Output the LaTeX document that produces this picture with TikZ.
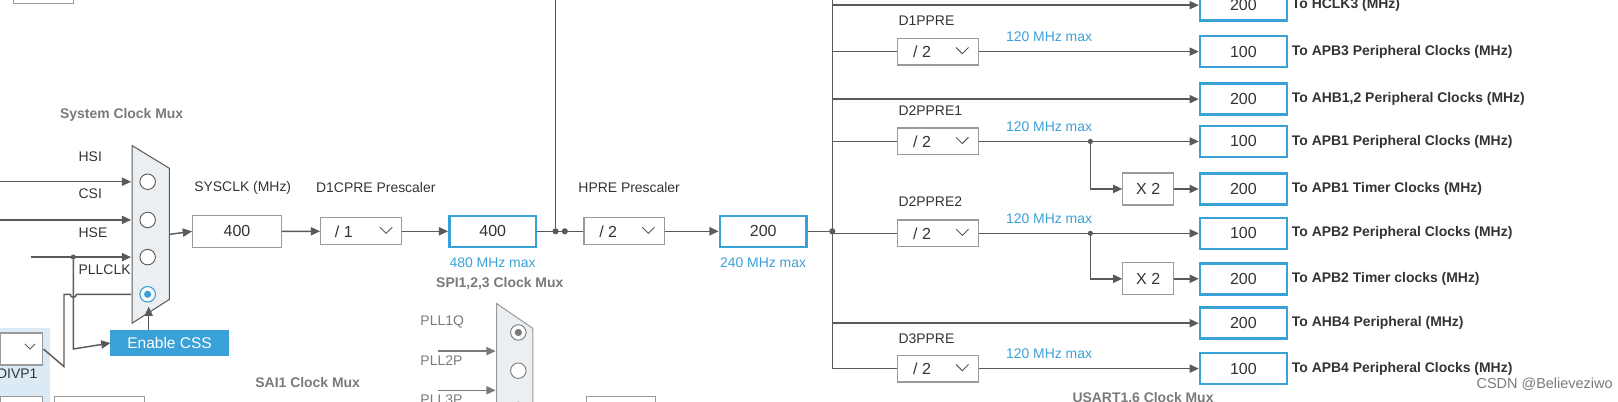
\documentclass[tikz,border=0pt]{standalone}
\usepackage{fontspec}
\setmainfont{Liberation Sans}
\usetikzlibrary{arrows.meta}
\definecolor{ln}{HTML}{5A5A5A}
\definecolor{bx}{HTML}{9A9A9A}
\definecolor{bl}{HTML}{3AA0D8}
\definecolor{tx}{HTML}{333333}
\definecolor{gl}{HTML}{7A7A7A}
\definecolor{mux}{HTML}{ECEFF2}
\definecolor{pan}{HTML}{DCEAF6}
\begin{document}
\begin{tikzpicture}[x=1pt,y=-1pt,
  wire/.style={draw=ln,line width=1.4pt},
  arr/.style={wire,-{Triangle[length=9pt,width=8pt]}},
  vf/.style={font=\fontsize{15.5}{15.5}\selectfont,text=tx},
  gbox/.style={draw=bx,line width=1.1pt,fill=white,minimum width=86pt,minimum height=31pt,inner sep=0,vf},
  bbox/.style={draw=bl,line width=2.4pt,fill=white,minimum width=84pt,minimum height=30pt,inner sep=0,vf},
  dd/.style={draw=bx,line width=1.1pt,fill=white,minimum width=78pt,minimum height=26pt,inner sep=0},
  lab/.style={font=\fontsize{13.5}{13.5}\selectfont,text=tx,anchor=west,inner sep=0},
  blab/.style={font=\fontsize{13.5}{13.5}\selectfont,text=bl,inner sep=0},
  rlab/.style={font=\bfseries\fontsize{13.5}{13.5}\selectfont,text=tx,anchor=west,inner sep=0},
  glab/.style={font=\bfseries\fontsize{13.5}{13.5}\selectfont,text=gl,inner sep=0},
  dot/.style={circle,fill=ln,inner sep=0,minimum size=6pt},
  rc/.style={circle,draw=ln,line width=0.9pt,fill=white,minimum size=15pt,inner sep=0}]
\useasboundingbox (0,0) rectangle (1567,388.4);
\clip (0,0) rectangle (1567,388.4);
% left panel
\fill[pan] (0,318) rectangle (48,401);
\node[dd,minimum width=41pt,minimum height=31pt,anchor=north west] (divp) at (0,322) {};
\draw[ln,line width=0.9pt] (24,333) -- (29,338) -- (34,333);
\node[lab] at (-3,362) {DIVP1};
\draw[bx,fill=white,line width=1.1pt] (0,384) rectangle (41,405);
\draw[bx,fill=white,line width=1.1pt] (53,384) rectangle (140,405);
\draw[bx,fill=white,line width=1.1pt] (13,-5) rectangle (71,3);
% system mux
\path[draw=ln,fill=mux,line width=1pt] (128,141) -- (164,163) -- (164,290) -- (128,313) -- cycle;
\node[rc] (c1) at (143,176) {};
\node[rc] (c2) at (143,213) {};
\node[rc] (c3) at (143,249) {};
\node[circle,draw=bl,line width=1.1pt,fill=white,minimum size=15pt,inner sep=0] (c4) at (143,285) {};
\fill[bl] (143,285) circle (3.5pt);
\node[glab,anchor=south west] at (58,118) {System Clock Mux};
\node[lab] at (76,152) {HSI};
\node[lab] at (76,188) {CSI};
\node[lab] at (76,225) {HSE};
\node[lab] at (76,261) {PLLCLK};
\coordinate (hsi) at (0,176);
\coordinate (csi) at (0,213);
\coordinate (hse) at (30,249);
\draw[arr] (hsi) -- (127,176);
\draw[arr] (csi) -- (127,213);
\draw[arr] (hse) -- (127,249);
\node[dot,minimum size=5pt] (hd) at (71,249) {};
\node[draw=bl,fill=bl,text=white,minimum width=114pt,minimum height=24pt,inner sep=0,font=\fontsize{15}{15}\selectfont,anchor=north west] (css) at (107,320) {Enable CSS};
\draw[arr] (hd) -- (71,338) -- (css.west);
\draw[wire] (divp.east) -- (62,355) -- (62,285) -- (68,285) arc (180:0:3) -- (127,285);
\draw[-{Triangle[length=9pt,width=8pt]},wire] (144,320) -- (144,297);
% main chain
\node[gbox,anchor=north west] (sys) at (186,208) {400};
\draw[arr] (164,227) -- (sys.west);
\node[lab] at (188,182) {SYSCLK (MHz)};
\node[lab] at (306,182) {D1CPRE Prescaler};
\node[dd,anchor=west] (d1c) at (310,224) {};
\node[vf] at (333,224) {/ 1};
\draw[ln,line width=0.9pt] (368,220) -- (374,226) -- (380,220);
\draw[arr] (sys.east) -- (d1c.west);
\node[bbox,anchor=west] (b400) at (434,224) {400};
\draw[arr] (d1c.east) -- (b400.west);
\node[blab] at (477,254) {480 MHz max};
\node[glab] at (484,275) {SPI1,2,3 Clock Mux};
\node[dot] (j1) at (538,224) {};
\node[dot] (j2) at (547,224) {};
\draw[wire] (b400.east) -- (j2);
\draw[wire] (j1) -- (538,0);
\node[lab] at (560,182) {HPRE Prescaler};
\node[dd,anchor=west] (hp) at (565,224) {};
\node[vf] at (589,224) {/ 2};
\draw[ln,line width=0.9pt] (622,220) -- (628,226) -- (634,220);
\draw[wire] (j2) -- (hp.west);
\node[bbox,anchor=west] (b200) at (696,224) {200};
\draw[arr] (hp.east) -- (b200.west);
\node[blab] at (739,254) {240 MHz max};
\node[dot] (j3) at (806,224) {};
\draw[wire] (b200.east) -- (j3);
\draw[wire] (806,0) -- (806,357);
% right rows
\foreach \y/\v/\t [count=\i] in {5/200/To HCLK3 (MHz),50/100/To APB3 Peripheral Clocks (MHz),96/200/To AHB1{,}2 Peripheral Clocks (MHz),137/100/To APB1 Peripheral Clocks (MHz),183/200/To APB1 Timer Clocks (MHz),226/100/To APB2 Peripheral Clocks (MHz),270/200/To APB2 Timer clocks (MHz),313/200/To AHB4 Peripheral (MHz),357/100/To APB4 Peripheral Clocks (MHz)}{
  \node[bbox,anchor=west] (r\i) at (1161,\y) {\v};
  \node[rlab] at (1251,\y) {\t};
}
\foreach \i/\y in {1/5,3/96,8/313}{\draw[arr] (806,\y) -- (r\i.west);}
\foreach \i/\y/\n/\ly [count=\k] in {2/50/D1PPRE/20,4/137/D2PPRE1/107,6/226/D2PPRE2/195,9/357/D3PPRE/328}{
  \node[dd,anchor=west] (p\k) at (869,\y) {};
  \node[vf] at (893,\y) {/ 2};
  \draw[ln,line width=0.9pt] (926,\y-4) -- (932,\y+2) -- (938,\y-4);
  \draw[wire] (806,\y) -- (p\k.west);
  \draw[arr] (p\k.east) -- (r\i.west);
  \node[lab] at (870,\ly) {\n};
  \node[blab] at (1016,\y-14) {120 MHz max};
}
\foreach \i/\y/\yy [count=\k] in {5/137/183,7/226/270}{
  \node[dot,minimum size=5pt] (b\k) at (1056,\y) {};
  \node[draw=bx,line width=1.1pt,minimum width=49pt,minimum height=31pt,inner sep=0,vf] (x\k) at (1112,\yy) {X 2};
  \draw[arr] (b\k) -- (1056,\yy) -- (x\k.west);
  \draw[arr] (x\k.east) -- (r\i.west);
}
% SPI mux
\path[draw=bx,fill=mux,line width=1pt] (481,420) -- (481,294) -- (516,318) -- (516,420);
\node[circle,draw=gl,line width=0.9pt,fill=white,minimum size=15pt,inner sep=0] at (502,322) {};
\fill[gl] (502,322) circle (3.5pt);
\node[circle,draw=gl,line width=0.9pt,fill=white,minimum size=15pt,inner sep=0] at (502,359) {};
\node[circle,draw=gl,line width=0.9pt,fill=white,minimum size=15pt,inner sep=0] at (502,397) {};
\node[lab,text=gl] at (407,312) {PLL1Q};
\node[lab,text=gl] at (407,349) {PLL2P};
\node[lab,text=gl] at (407,387) {PLL3P};
\coordinate (q1) at (424,340);
\coordinate (q2) at (424,378);
\draw[arr,draw=gl] (q1) -- (480,340);
\draw[arr,draw=gl] (q2) -- (480,378);
\draw[bx,fill=white,line width=1.1pt] (568,384) rectangle (635,405);
\node[glab] at (298,370) {SAI1 Clock Mux};
\node[glab] at (1107,386) {USART1,6 Clock Mux};
\node[font=\fontsize{14}{14}\selectfont,text=gl,anchor=east,inner sep=0] at (1562,372) {CSDN @Believeziwo};
\end{tikzpicture}
\end{document}
